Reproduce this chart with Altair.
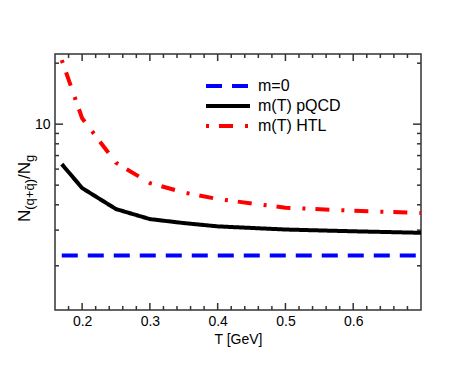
import altair as alt
import pandas as pd

# ---- data ----
T = [0.17, 0.2, 0.25, 0.3, 0.35, 0.4, 0.5, 0.6, 0.7]
m0 = [2.25, 2.25, 2.25, 2.25, 2.25, 2.25, 2.25, 2.25, 2.25]
pqcd = [6.35, 4.84, 3.81, 3.40, 3.25, 3.13, 3.02, 2.96, 2.91]
htl = [20.7, 10.7, 6.45, 5.12, 4.60, 4.27, 3.87, 3.74, 3.64]
series = ["m=0", "m(T) pQCD", "m(T) HTL"]
colors = ["#0000ff", "#000000", "#ff0000"]
dashes = [[16, 10], [1, 0], [3, 10, 14, 12]]
x_major = [0.2, 0.3, 0.4, 0.5, 0.6]
x_minor = [0.18, 0.22, 0.24, 0.26, 0.28, 0.32, 0.34, 0.36, 0.38, 0.42, 0.44,
           0.46, 0.48, 0.52, 0.54, 0.56, 0.58, 0.62, 0.64, 0.66, 0.68]
y_major = [10]
y_minor = [2, 3, 4, 5, 6, 7, 8, 9, 20]
x_domain = [0.16, 0.7]
y_domain = [1.21, 22.2]

FONT = "Liberation Sans"
W, H = 366, 256
TICK = "#333333"

rows = []
for name, vals in zip(series, [m0, pqcd, htl]):
    for t, v in zip(T, vals):
        rows.append({"T": t, "value": v, "series": name})
df = pd.DataFrame(rows)

xs = alt.Scale(domain=x_domain, nice=False, zero=False)
ys = alt.Scale(type="log", domain=y_domain, nice=False)

leg = alt.Legend(orient="none", legendX=149, legendY=22, title=None,
                 symbolType="stroke", symbolSize=1936, symbolStrokeWidth=4,
                 labelFont=FONT, labelFontSize=16, labelOffset=6,
                 clipHeight=20, rowPadding=0, padding=0)

lines = alt.Chart(df).mark_line(strokeWidth=4, clip=True).encode(
    x=alt.X("T:Q", scale=xs, axis=alt.Axis(
        orient="bottom", values=x_major, format=".1f", ticks=False, domain=False,
        grid=False, labelFont=FONT, labelFontSize=14, labelPadding=4,
        labelColor="black", title="T [GeV]", titleFont=FONT, titleFontSize=14,
        titleFontWeight="normal", titlePadding=4, titleColor="black")),
    y=alt.Y("value:Q", scale=ys, axis=alt.Axis(
        orient="left", values=y_major, format=".0f", ticks=False, domain=False,
        grid=False, labelFont=FONT, labelFontSize=14, labelPadding=5,
        labelColor="black", title=None)),
    color=alt.Color("series:N", scale=alt.Scale(domain=series, range=colors), legend=leg),
    strokeDash=alt.StrokeDash("series:N", scale=alt.Scale(domain=series, range=dashes), legend=leg),
)


def yticks(vals, left, length):
    x0 = 0 if left else W
    x1 = length if left else W - length
    return alt.Chart(pd.DataFrame({"value": vals})).mark_rule(
        color=TICK, strokeWidth=1.5).encode(
        y=alt.Y("value:Q", scale=ys, axis=None),
        x=alt.value(x0), x2=alt.value(x1))


def xticks(vals, bottom, length):
    y0 = H if bottom else 0
    y1 = H - length if bottom else length
    return alt.Chart(pd.DataFrame({"T": vals})).mark_rule(
        color=TICK, strokeWidth=1.5).encode(
        x=alt.X("T:Q", scale=xs, axis=None),
        y=alt.value(y0), y2=alt.value(y1))


ticks = [
    yticks(y_major, True, 8), yticks(y_minor, True, 4),
    yticks(y_major, False, 8), yticks(y_minor, False, 4),
    xticks(x_major, True, 7), xticks(x_minor, True, 4),
    xticks(x_major, False, 7), xticks(x_minor, False, 4),
]

# y-axis title N_{(q+qbar)}/N_g built from pieces
widths = {"N": 0.722, "(": 0.333, "q": 0.556, "+": 0.584, ")": 0.333, "/": 0.278, "g": 0.556}
pieces = [("N", 17, 0), ("(q+q\u0304)", 13, 4), ("/", 17, 0), ("N", 17, 0), ("g", 13, 4)]
base_x = -25
ycur = 168
texts = []
for txt, fs, dx in pieces:
    texts.append(
        alt.Chart(pd.DataFrame({"k": [0]})).mark_text(
            text=txt, angle=270, align="left", baseline="alphabetic",
            font=FONT, fontSize=fs, color="black").encode(
            x=alt.value(base_x + dx), y=alt.value(ycur))
    )
    ycur -= sum(widths.get(c, 0) for c in txt) * fs

chart = alt.layer(*ticks, lines, *texts).resolve_axis(
    x="independent", y="independent"
).properties(
    width=W, height=H, autosize="none",
    padding={"left": 47, "top": 46, "right": 45, "bottom": 48},
).configure_view(stroke="#333333", strokeWidth=1.5)

chart.save("out.html", embed_options={"renderer": "svg", "actions": False})
